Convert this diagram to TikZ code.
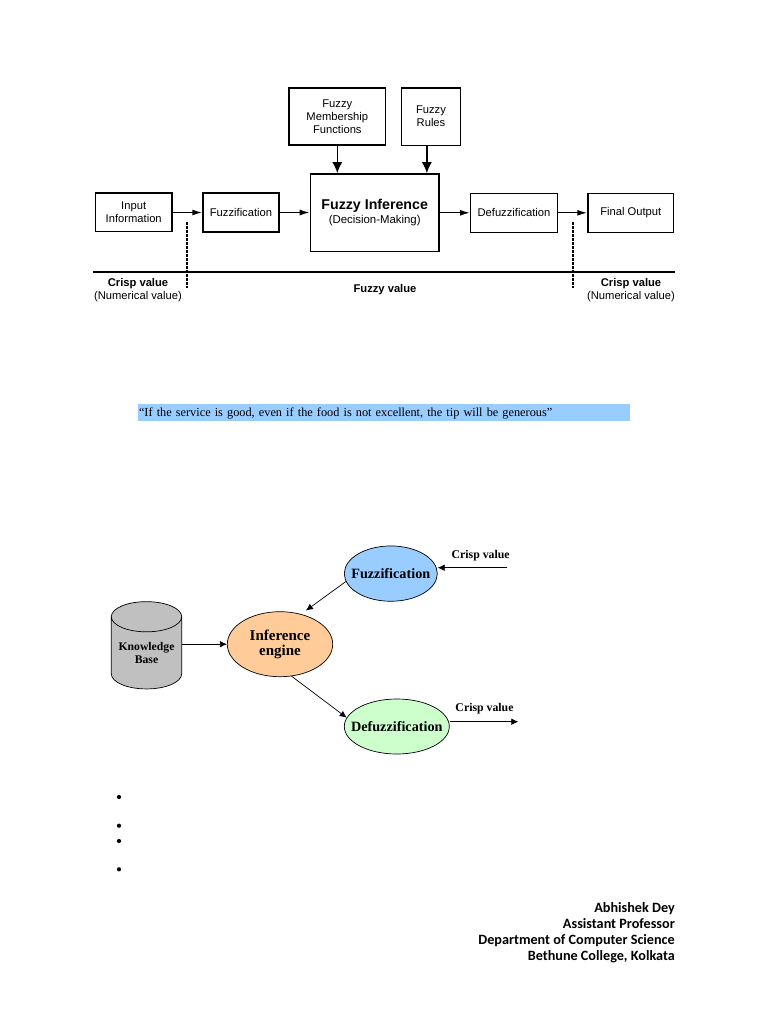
\documentclass[tikz,border=0pt]{standalone}
\usepackage{fontspec}
\setmainfont{Liberation Serif}
\setsansfont{Liberation Sans}
\newfontfamily\signfont{Carlito}
\usetikzlibrary{shapes.geometric,arrows.meta}
\definecolor{bandblue}{HTML}{99CCFF}
\definecolor{infcolor}{HTML}{FFCC99}
\definecolor{defcolor}{HTML}{CCFFCC}
\definecolor{cylgray}{HTML}{C0C0C0}
\tikzset{
  blockbox/.style={shape=rectangle,draw=black,line width=1.4pt,inner sep=0pt,align=center,font=\sffamily\fontsize{11.2}{12.8}\selectfont},
  toplabel/.style={inner sep=0pt,align=center,font=\sffamily\fontsize{11.2}{13}\selectfont},
  blob/.style={shape=ellipse,draw=black,line width=0.7pt,inner xsep=-10pt,inner ysep=0pt,align=center,font=\bfseries\fontsize{14.2}{15.5}\selectfont},
  lowlabel/.style={inner sep=0pt,font=\bfseries\fontsize{11.8}{13}\selectfont},
  bulletdot/.style={shape=circle,fill=black,inner sep=0pt,minimum size=4.2pt},
  hflow/.style={-{Latex[length=10pt,width=6pt]},line width=1.4pt},
  vflow/.style={-{Latex[length=11pt,width=10pt]},line width=1.4pt},
  lowflow/.style={-{Latex[length=7pt,width=6.5pt]},line width=0.7pt},
}
\begin{document}
\begin{tikzpicture}[x=1pt,y=-1pt]
      \useasboundingbox (0,0) rectangle (768,1024);
      % top block diagram
      \node[blockbox,minimum width=76.5pt,minimum height=38.6pt] (input) at (133.7,212.5) {Input\\Information};
      \node[blockbox,minimum width=76pt,minimum height=39pt] (fuzz) at (241,212.5) {Fuzzification};
      \node[blockbox,minimum width=96.7pt,minimum height=57pt] (member) at (337.3,116.5) {Fuzzy\\Membership\\Functions};
      \node[blockbox,minimum width=59.4pt,minimum height=57.3pt] (rules) at (431,116.6) {Fuzzy\\Rules};
      \node[blockbox,minimum width=128.7pt,minimum height=77.3pt] (inf) at (374.7,212.6) {\fontsize{14.2}{15}\selectfont\bfseries Fuzzy Inference\\[1pt]\fontsize{11.4}{13}\selectfont (Decision-Making)};
      \node[blockbox,minimum width=86.6pt,minimum height=39pt] (defuzz) at (514,212.8) {Defuzzification};
      \node[blockbox,minimum width=85.7pt,minimum height=39pt] (final) at (630.8,212.8) {Final Output};
      \path [hflow](input.east) edge (fuzz.west);
      \path [hflow](fuzz.east) edge (inf.west |- fuzz.east);
      \path [hflow](inf.east |- defuzz.west) edge (defuzz.west);
      \path [hflow](defuzz.east) edge (final.west);
      \path [vflow](member.south) edge (member.south |- inf.north);
      \path [vflow](rules.-98) edge (rules.-98 |- inf.north);
      \coordinate (axisl) at (93,272);
      \coordinate (axisr) at (675,272);
      \draw[line width=1.8pt] (axisl) -- (axisr);
      \coordinate (dashlt) at (186.7,222);
      \coordinate (dashlb) at (186.7,287.5);
      \coordinate (dashrt) at (572.7,222);
      \coordinate (dashrb) at (572.7,287.5);
      \draw[line width=1.8pt,dash pattern=on 3pt off 1pt] (dashlt) -- (dashlb);
      \draw[line width=1.8pt,dash pattern=on 3pt off 1pt] (dashrt) -- (dashrb);
      \node[toplabel] (crispl) at (138,290) {\bfseries Crisp value\\(Numerical value)};
      \node[toplabel] (crispr) at (631,290.5) {\bfseries Crisp value\\(Numerical value)};
      \node[toplabel] (fuzzyv) at (385,289.5) {\bfseries Fuzzy value};
      % quotation band
      \node[fill=bandblue,minimum width=492pt,inner sep=0pt,text width=490pt,text height=12pt,text depth=5pt,font=\fontsize{12.3}{14}\selectfont] (quote) at (384,412.5) {“If the service is good, even if the food is not excellent, the tip will be generous”};
      % lower diagram
      \node[blob,fill=bandblue,minimum width=93pt,minimum height=55.3pt] (fuzzl) at (390.8,573.6) {Fuzzification};
      \node[blob,fill=infcolor,minimum width=105.4pt,minimum height=65pt,font=\bfseries\fontsize{15}{14.5}\selectfont] (engine) at (280,644.2) {Inference\\engine};
      \node[blob,fill=defcolor,minimum width=105pt,minimum height=55pt] (defl) at (396.8,726.5) {Defuzzification};
      \node[shape=cylinder,shape border rotate=90,aspect=0.54,draw=black,line width=0.7pt,fill=cylgray,inner sep=0pt,minimum width=70.4pt,minimum height=87.3pt,align=center,font=\bfseries\fontsize{11.7}{13}\selectfont] (base) at (146.5,653) {Knowledge\\Base};
      \node[lowlabel] (crispin) at (480.7,555.5) {Crisp value};
      \node[lowlabel] (crispout) at (484.5,709) {Crisp value};
      \coordinate (crispa) at (507.3,567.7);
      \coordinate (crispb) at (518.3,721.7);
      \path [lowflow](crispa) edge (fuzzl.east |- crispa);
      \path [lowflow](fuzzl.190) edge [shorten >=6pt] (engine.55);
      \path [lowflow](base.east |- engine.west) edge (engine.west);
      \path [lowflow](engine.-70) edge (defl.170);
      \path [lowflow](defl.east |- crispb) edge (crispb);
      % bullets
      \node[bulletdot] (b1) at (119,797) {};
      \node[bulletdot] (b2) at (119,825.7) {};
      \node[bulletdot] (b3) at (119,841) {};
      \node[bulletdot] (b4) at (119,869.3) {};
      % signature
      \node[anchor=north east,inner sep=0pt,align=right,font=\signfont\bfseries\fontsize{14.2}{16}\selectfont] (sign) at (675,902) {Abhishek Dey\\Assistant Professor\\Department of Computer Science\\Bethune College, Kolkata};
    \end{tikzpicture}
\end{document}
